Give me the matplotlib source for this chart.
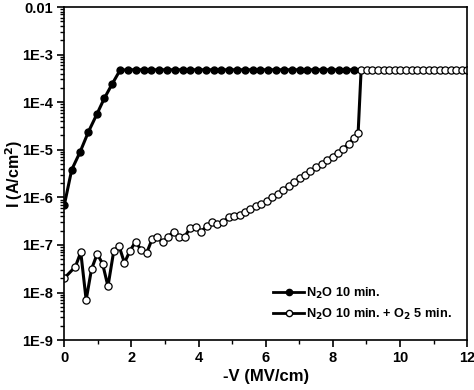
import matplotlib.pyplot as plt
from matplotlib.ticker import LogLocator, NullFormatter, FixedLocator, MultipleLocator
from matplotlib.lines import Line2D

plt.rcParams['font.family'] = ['Liberation Sans', 'DejaVu Sans']
plt.rcParams['font.weight'] = 'bold'
plt.rcParams['mathtext.default'] = 'bf'

# N2O 10 min. (filled)
v_n2o = [0.0, 0.22, 0.47, 0.72, 0.97, 1.19, 1.43, 1.66,
         1.89, 2.12, 2.36, 2.59, 2.82, 3.05, 3.29, 3.52, 3.75, 3.98,
         4.22, 4.45, 4.68, 4.91, 5.15, 5.38, 5.61, 5.84, 6.08, 6.31,
         6.54, 6.77, 7.01, 7.24, 7.47, 7.70, 7.94, 8.17, 8.40, 8.62]
i_n2o = [6.9e-7, 3.8e-6, 9.0e-6, 2.4e-5, 5.6e-5, 1.2e-4, 2.45e-4, 4.7e-4,
         4.8e-4, 4.8e-4, 4.8e-4, 4.8e-4, 4.8e-4, 4.8e-4, 4.8e-4, 4.8e-4, 4.8e-4, 4.8e-4,
         4.8e-4, 4.8e-4, 4.8e-4, 4.8e-4, 4.8e-4, 4.8e-4, 4.8e-4, 4.8e-4, 4.8e-4, 4.8e-4,
         4.8e-4, 4.8e-4, 4.8e-4, 4.8e-4, 4.8e-4, 4.8e-4, 4.8e-4, 4.8e-4, 4.8e-4, 4.8e-4]

# N2O 10 min. + O2 5 min. (open)
v_o2 = [0.0, 0.33, 0.49, 0.65, 0.81, 0.98, 1.14, 1.30, 1.47, 1.63,
        1.79, 1.96, 2.12, 2.28, 2.45, 2.61, 2.77, 2.93, 3.10, 3.26,
        3.42, 3.59, 3.75, 3.91, 4.08, 4.24, 4.40, 4.56, 4.73, 4.89,
        5.05, 5.22, 5.38, 5.54, 5.70, 5.87, 6.03, 6.19, 6.36, 6.52,
        6.68, 6.84, 7.01, 7.17, 7.33, 7.50, 7.66, 7.82, 7.99, 8.15,
        8.31, 8.47, 8.64, 8.75,
        8.84, 9.01, 9.17, 9.34, 9.51, 9.68, 9.84, 10.01, 10.18, 10.35,
        10.51, 10.68, 10.85, 11.01, 11.18, 11.35, 11.52, 11.68, 11.85, 12.0]
i_o2 = [2.0e-8, 3.5e-8, 7.0e-8, 7.0e-9, 3.1e-8, 6.5e-8, 4.0e-8, 1.35e-8, 7.3e-8, 9.5e-8,
        4.2e-8, 7.6e-8, 1.17e-7, 8.0e-8, 6.7e-8, 1.3e-7, 1.45e-7, 1.13e-7, 1.5e-7, 1.9e-7,
        1.5e-7, 1.5e-7, 2.3e-7, 2.4e-7, 1.9e-7, 2.5e-7, 3.0e-7, 2.8e-7, 3.0e-7, 3.8e-7,
        4.0e-7, 4.3e-7, 5.0e-7, 5.6e-7, 6.5e-7, 7.2e-7, 8.5e-7, 1.0e-6, 1.15e-6, 1.4e-6,
        1.75e-6, 2.1e-6, 2.5e-6, 2.9e-6, 3.5e-6, 4.3e-6, 5.0e-6, 6.1e-6, 7.2e-6, 8.7e-6,
        1.05e-5, 1.35e-5, 1.8e-5, 2.2e-5,
        4.8e-4, 4.8e-4, 4.8e-4, 4.8e-4, 4.8e-4, 4.8e-4, 4.8e-4, 4.8e-4, 4.8e-4, 4.8e-4,
        4.8e-4, 4.8e-4, 4.8e-4, 4.8e-4, 4.8e-4, 4.8e-4, 4.8e-4, 4.8e-4, 4.8e-4, 4.8e-4]

ytick_vals = [1e-9, 1e-8, 1e-7, 1e-6, 1e-5, 1e-4, 1e-3, 1e-2]
ytick_labels = ['1E-9', '1E-8', '1E-7', '1E-6', '1E-5', '1E-4', '1E-3', '0.01']

fig = plt.figure(figsize=(4.74, 3.9), dpi=100)
ax = fig.add_axes([0.1357, 0.128, 0.850, 0.854])

ax.plot(v_o2, i_o2, color='black', lw=2.2, marker='o', ms=5.2,
        mfc='white', mec='black', mew=0.9, zorder=2)
ax.plot(v_n2o, i_n2o, color='black', lw=2.2, marker='o', ms=5.0,
        mfc='black', mec='black', zorder=3)

ax.set_yscale('log')
ax.set_xlim(0, 12)
ax.set_ylim(1e-9, 1e-2)
ax.yaxis.set_major_locator(FixedLocator(ytick_vals))
ax.set_yticklabels(ytick_labels)
ax.yaxis.set_minor_locator(LogLocator(base=10, subs=range(2, 10), numticks=20))
ax.yaxis.set_minor_formatter(NullFormatter())
ax.xaxis.set_major_locator(MultipleLocator(2))
ax.xaxis.set_minor_locator(MultipleLocator(1))

ax.tick_params(axis='both', which='major', direction='out', length=5, width=1.2,
               labelsize=10.5, pad=3)
ax.tick_params(axis='both', which='minor', direction='out', length=3, width=1)
for s in ax.spines.values():
    s.set_linewidth(1.2)
for lab in ax.get_xticklabels() + ax.get_yticklabels():
    lab.set_fontweight('bold')

ax.set_xlabel('-V (MV/cm)', fontsize=12, fontweight='bold', labelpad=3)
ax.set_ylabel('I (A/cm$^2$)', fontsize=11.5, fontweight='bold')
ax.yaxis.set_label_coords(-0.098, 0.5)

handles = [
    Line2D([], [], color='black', lw=2, marker='o', ms=4.5, mfc='black', mec='black'),
    Line2D([], [], color='black', lw=2, marker='o', ms=4.5, mfc='white', mec='black'),
]
ax.legend(handles, ['N$_2$O 10 min.', 'N$_2$O 10 min. + O$_2$ 5 min.'],
          loc='lower left', bbox_to_anchor=(0.49, 0.02), frameon=False,
          handlelength=2.4, handletextpad=0.2, labelspacing=0.45,
          prop={'size': 9.2, 'weight': 'bold'})

fig.savefig('out.png', dpi=100)
